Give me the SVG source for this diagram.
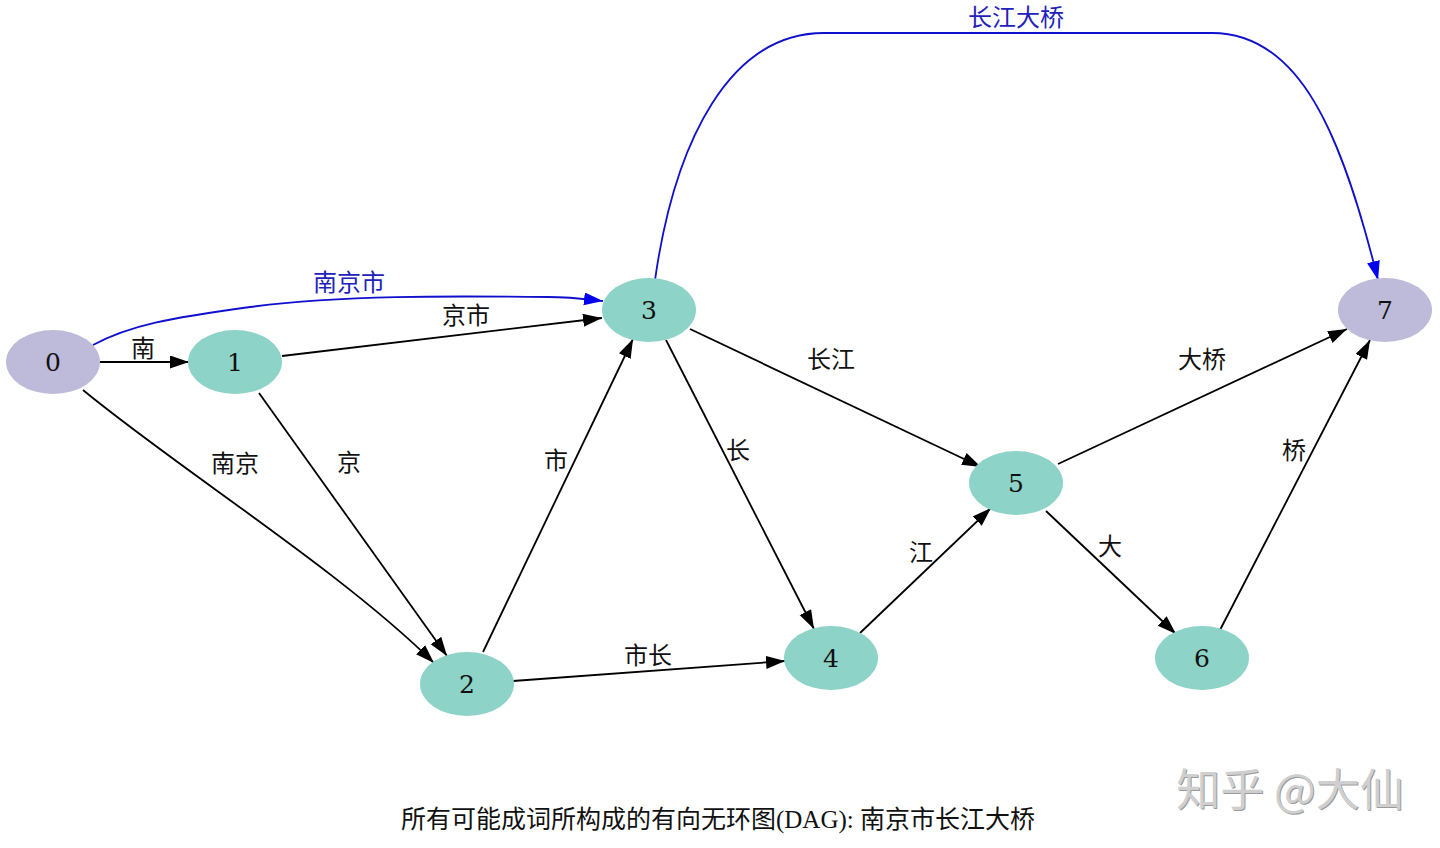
<svg xmlns="http://www.w3.org/2000/svg" width="1440" height="848" viewBox="0 0 1440 848">
<style>
.nodeA{fill:#bebada;stroke:none}
.nodeB{fill:#8dd3c7;stroke:none}
.num{font-family:"DejaVu Serif","Liberation Serif",serif;font-size:25px;fill:#111;text-anchor:middle}
.e{fill:none;stroke:#000;stroke-width:1.8;marker-end:url(#ab)}
.eb{fill:none;stroke:#1010cc;stroke-width:1.8;marker-end:url(#abl)}
.lbl{font-family:"Noto Sans CJK SC","Noto Sans",sans-serif;font-size:24px;fill:#111;text-anchor:middle}
.lblb{font-family:"Noto Sans CJK SC","Noto Sans",sans-serif;font-size:24px;fill:#2222bb;text-anchor:middle}
.cap{font-family:"Liberation Serif","Noto Sans CJK SC",serif;font-size:25px;fill:#111;text-anchor:middle}
.wm{font-family:"Noto Sans CJK SC",sans-serif;font-size:44px;text-anchor:middle}
</style>
<defs>
<marker id="ab" markerUnits="userSpaceOnUse" markerWidth="20" markerHeight="14" refX="19" refY="6.5" orient="auto">
<path d="M0,0 L19,6.5 L0,13 z" fill="#000"/>
</marker>
<marker id="abl" markerUnits="userSpaceOnUse" markerWidth="20" markerHeight="14" refX="19" refY="6.5" orient="auto">
<path d="M0,0 L19,6.5 L0,13 z" fill="#0000ee"/>
</marker>
</defs>
<rect width="1440" height="848" fill="#fff"/>
<g id="edges">
<path class="e" d="M100,362 L189,362"/>
<path class="eb" d="M93,345 C130,325 170,318 250,307 C340,295 450,296 548,297 C570,297 585,299 603,301"/>
<path class="e" d="M282,356 L602,318"/>
<path class="e" d="M83,390 C180,470 340,570 434,663"/>
<path class="e" d="M259,393 L447,656"/>
<path class="e" d="M483,652 L633,339"/>
<path class="e" d="M513,681 L785,661"/>
<path class="e" d="M666,340 L814,629"/>
<path class="e" d="M690,329 L981,467"/>
<path class="eb" d="M655,280 C675,140 730,33 824,33 L1212,33 C1300,33 1342,135 1378,280"/>
<path class="e" d="M860,633 L991,508"/>
<path class="e" d="M1058,464 L1347,329"/>
<path class="e" d="M1046,511 L1176,634"/>
<path class="e" d="M1220,630 L1370,340"/>
<text class="lbl" x="143" y="357">南</text>
<text class="lblb" x="349" y="291">南京市</text>
<text class="lbl" x="466" y="324">京市</text>
<text class="lbl" x="235" y="472">南京</text>
<text class="lbl" x="349" y="471">京</text>
<text class="lbl" x="556" y="469">市</text>
<text class="lbl" x="648" y="664">市长</text>
<text class="lbl" x="738" y="459">长</text>
<text class="lbl" x="831" y="368">长江</text>
<text class="lbl" x="921" y="561">江</text>
<text class="lbl" x="1110" y="555">大</text>
<text class="lbl" x="1202" y="368">大桥</text>
<text class="lbl" x="1294" y="459">桥</text>
<text class="lblb" x="1016" y="26">长江大桥</text>
</g>
<g id="n0"><ellipse class="nodeA" cx="53" cy="362" rx="47" ry="32"/><text class="num" x="53" y="371">0</text></g>
<g id="n1"><ellipse class="nodeB" cx="235" cy="362" rx="47" ry="32"/><text class="num" x="235" y="371">1</text></g>
<g id="n2"><ellipse class="nodeB" cx="467" cy="684" rx="47" ry="32"/><text class="num" x="467" y="693">2</text></g>
<g id="n3"><ellipse class="nodeB" cx="649" cy="310" rx="47" ry="32"/><text class="num" x="649" y="319">3</text></g>
<g id="n4"><ellipse class="nodeB" cx="831" cy="658" rx="47" ry="32"/><text class="num" x="831" y="667">4</text></g>
<g id="n5"><ellipse class="nodeB" cx="1016" cy="483" rx="47" ry="32"/><text class="num" x="1016" y="492">5</text></g>
<g id="n6"><ellipse class="nodeB" cx="1202" cy="658" rx="47" ry="32"/><text class="num" x="1202" y="667">6</text></g>
<g id="n7"><ellipse class="nodeA" cx="1385" cy="310" rx="47" ry="32"/><text class="num" x="1385" y="319">7</text></g>
<text class="cap" x="718" y="828">所有可能成词所构成的有向无环图(DAG): 南京市长江大桥</text>
<text class="wm" x="1291" y="807" fill="#9a9a9a">知乎 @大仙</text>
<text class="wm" x="1290" y="806" fill="#cfcfcf">知乎 @大仙</text>
</svg>
